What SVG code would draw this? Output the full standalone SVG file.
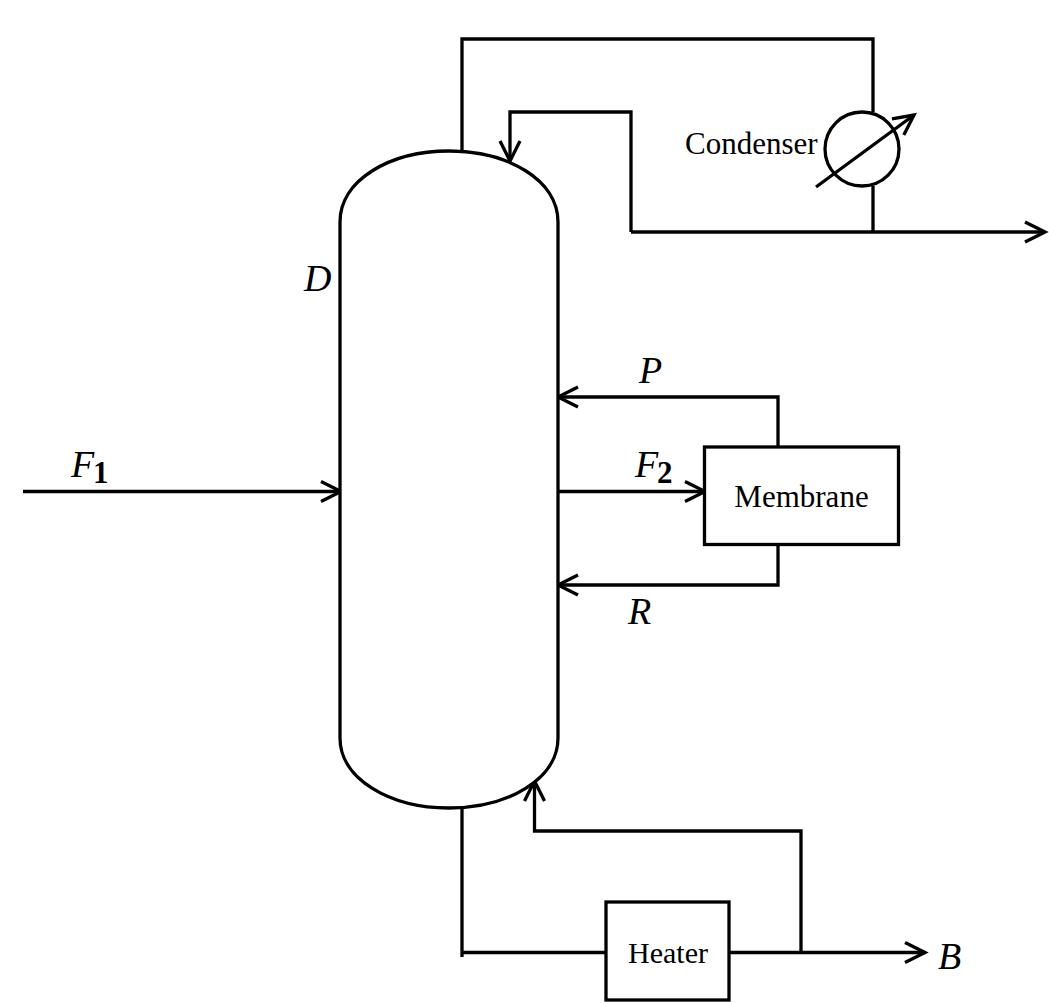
<svg xmlns="http://www.w3.org/2000/svg" width="1049" height="1003" viewBox="0 0 1049 1003">
<style>
.l{fill:none;stroke:#000;stroke-width:3.3}
.a{fill:none;stroke:#000;stroke-width:3.3}
.n{fill:#fff;stroke:#000;stroke-width:3.3}
text{font-family:"Liberation Serif","Times New Roman",serif;fill:#000}
.t{font-size:31px}
.h{font-size:30px}
.v{font-size:38px;font-style:italic}
.s{font-size:31px;font-weight:bold}
</style>
<defs><marker id="h" markerUnits="userSpaceOnUse" markerWidth="24" markerHeight="24" refX="20" refY="12" orient="auto" overflow="visible"><path d="M0 2L20 12L0 22" fill="none" stroke="#000" stroke-width="3.3"/></marker></defs>
<g id="connectors">
<path class="l" d="M462 152V39H873V112M873 186V232"/>
<path class="a" d="M631 232V112H510V161" marker-end="url(#h)"/>
<path class="a" d="M631 232H1045" marker-end="url(#h)"/>
<path class="a" d="M23 491.500H341" marker-end="url(#h)"/>
<path class="a" d="M558 491.500H705" marker-end="url(#h)"/>
<path class="a" d="M778 447V397H558" marker-end="url(#h)"/>
<path class="a" d="M778 544V585H558" marker-end="url(#h)"/>
<path class="l" d="M462 808V957M462 952.500H606"/>
<path class="a" d="M729 952.500H925" marker-end="url(#h)"/>
<path class="a" d="M801 952V831H534.500V781" marker-end="url(#h)"/>
</g>
<g id="column"><path class="n" d="M340 222C340 180 390 151 449 151C508 151 558 180 558 222V738C558 779 508 808 449 808C390 808 340 779 340 738Z"/></g>
<g id="condenser"><circle class="n" cx="862" cy="149" r="37"/><path class="a" d="M816 187L914 115" marker-end="url(#h)"/><text class="t" x="685" y="154">Condenser</text></g>
<g id="membrane"><rect class="n" x="704.500" y="447" width="194" height="97.500"/><text class="t" x="801.500" y="507" text-anchor="middle">Membrane</text></g>
<g id="heater"><rect class="n" x="606" y="902" width="123" height="98"/><text class="h" x="668" y="963" text-anchor="middle">Heater</text></g>
<g id="labels">
<text class="v" x="304" y="291">D</text>
<text class="v" x="71" y="477">F</text><text class="s" x="93" y="483">1</text>
<text class="v" x="635" y="477">F</text><text class="s" x="657" y="483">2</text>
<text class="v" x="639" y="383">P</text>
<text class="v" x="628" y="624">R</text>
<text class="v" x="938" y="969">B</text>
</g>
</svg>
